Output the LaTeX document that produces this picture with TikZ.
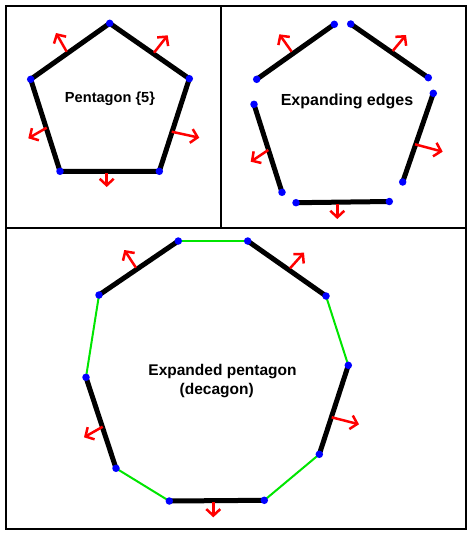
\documentclass[tikz,border=0pt]{standalone}
\usepackage{fontspec}
\setmainfont{Liberation Sans}
\usetikzlibrary{arrows.meta}
\begin{document}
\begin{tikzpicture}[x=1pt,y=-1pt,
  frame/.style={line width=2pt,black},
  edgeblack/.style={line width=5pt,black},
  edgegreen/.style={line width=2pt,green!90!black},
  vdot/.style={circle,fill=blue,inner sep=0pt,minimum size=7.5pt},
  normalarrow/.style={line width=2.5pt,red,-{Straight Barb[length=6.5pt,width=14pt,line width=2.5pt]}},
  lbl/.style={inner sep=0pt,anchor=base}]
\useasboundingbox (0,0) rectangle (474,536);
% frames
\draw[frame] (6,6) rectangle (466,529);
\draw[frame] (221,6) -- (221,228);
\draw[frame] (6,228) -- (466,228);

% ---------- Pentagon 1 ----------
\coordinate (p1) at (109.7,23.3);
\coordinate (p2) at (189.3,78.7);
\coordinate (p3) at (159.3,171.3);
\coordinate (p4) at (60,171.3);
\coordinate (p5) at (30.7,79.3);
\draw[edgeblack,line join=miter] (p1) -- (p2) -- (p3) -- (p4) -- (p5) -- cycle;
\foreach \v in {p1,p2,p3,p4,p5} \node[vdot] at (\v) {};
\coordinate (s11) at (66.7,51.7);  \coordinate (t11) at (56,33);
\coordinate (s12) at (154,52.7);   \coordinate (t12) at (167.7,35.3);
\coordinate (s13) at (171.7,131.7);\coordinate (t13) at (199.3,137.7);
\coordinate (s14) at (106.7,173);  \coordinate (t14) at (106.7,187);
\coordinate (s15) at (46.7,127.7); \coordinate (t15) at (28.3,138.3);
\foreach \i in {11,12,13,14,15} \draw[normalarrow] (s\i) -- (t\i);
\node[lbl,font=\bfseries\fontsize{14.6}{17}\selectfont] (l1) at (110,102.7) {Pentagon \{5\}};

% ---------- Expanding edges ----------
\coordinate (q1a) at (256.7,79.3);  \coordinate (q1b) at (334.3,24.3);
\coordinate (q2a) at (350.7,24);    \coordinate (q2b) at (428.3,77.7);
\coordinate (q3a) at (433.3,93.3);  \coordinate (q3b) at (402.7,182);
\coordinate (q4a) at (389.3,201.5); \coordinate (q4b) at (296,202.7);
\coordinate (q5a) at (282,192.3);   \coordinate (q5b) at (254,104.3);
\foreach \i in {1,...,5} {
  \draw[edgeblack] (q\i a) -- (q\i b);
  \node[vdot] at (q\i a) {};
  \node[vdot] at (q\i b) {};
}
\coordinate (s21) at (291.7,51.7); \coordinate (t21) at (279.3,34.3);
\coordinate (s22) at (392.7,51);   \coordinate (t22) at (406,35);
\coordinate (s23) at (415,144.3);  \coordinate (t23) at (442.7,151.7);
\coordinate (s24) at (337.3,203.5);\coordinate (t24) at (337.3,219);
\coordinate (s25) at (268.3,150);  \coordinate (t25) at (250.7,161.7);
\foreach \i in {21,22,23,24,25} \draw[normalarrow] (s\i) -- (t\i);
\node[lbl,font=\bfseries\fontsize{16}{19}\selectfont] (l2) at (347,105) {Expanding edges};

% ---------- Decagon ----------
\coordinate (dA) at (178.3,241);
\coordinate (dB) at (247.7,241);
\coordinate (dC) at (326,296);
\coordinate (dD) at (348.3,365.3);
\coordinate (dE) at (319.3,454.3);
\coordinate (dF) at (264.3,500.3);
\coordinate (dG) at (169.3,501);
\coordinate (dH) at (116,468.3);
\coordinate (dI) at (86,377.3);
\coordinate (dJ) at (99,295);
\draw[edgegreen] (dA) -- (dB);
\draw[edgegreen] (dC) -- (dD);
\draw[edgegreen] (dE) -- (dF);
\draw[edgegreen] (dG) -- (dH);
\draw[edgegreen] (dI) -- (dJ);
\draw[edgeblack] (dJ) -- (dA);
\draw[edgeblack] (dB) -- (dC);
\draw[edgeblack] (dD) -- (dE);
\draw[edgeblack] (dF) -- (dG);
\draw[edgeblack] (dH) -- (dI);
\foreach \v in {dA,dB,dC,dD,dE,dF,dG,dH,dI,dJ} \node[vdot] at (\v) {};
\coordinate (s31) at (136,267.7);   \coordinate (t31) at (124.3,250);
\coordinate (s32) at (290,268.3);   \coordinate (t32) at (304,252.7);
\coordinate (s33) at (331.7,417.3); \coordinate (t33) at (359,424.3);
\coordinate (s34) at (213.3,502.3); \coordinate (t34) at (213.3,517.3);
\coordinate (s35) at (102.7,426.7); \coordinate (t35) at (84,437.3);
\foreach \i in {31,32,33,34,35} \draw[normalarrow] (s\i) -- (t\i);
\node[lbl,font=\bfseries\fontsize{15.5}{18}\selectfont] (l3) at (222.5,375) {Expanded pentagon};
\node[lbl,font=\bfseries\fontsize{15.5}{18}\selectfont] (l4) at (216.7,394) {(decagon)};
\end{tikzpicture}
\end{document}
